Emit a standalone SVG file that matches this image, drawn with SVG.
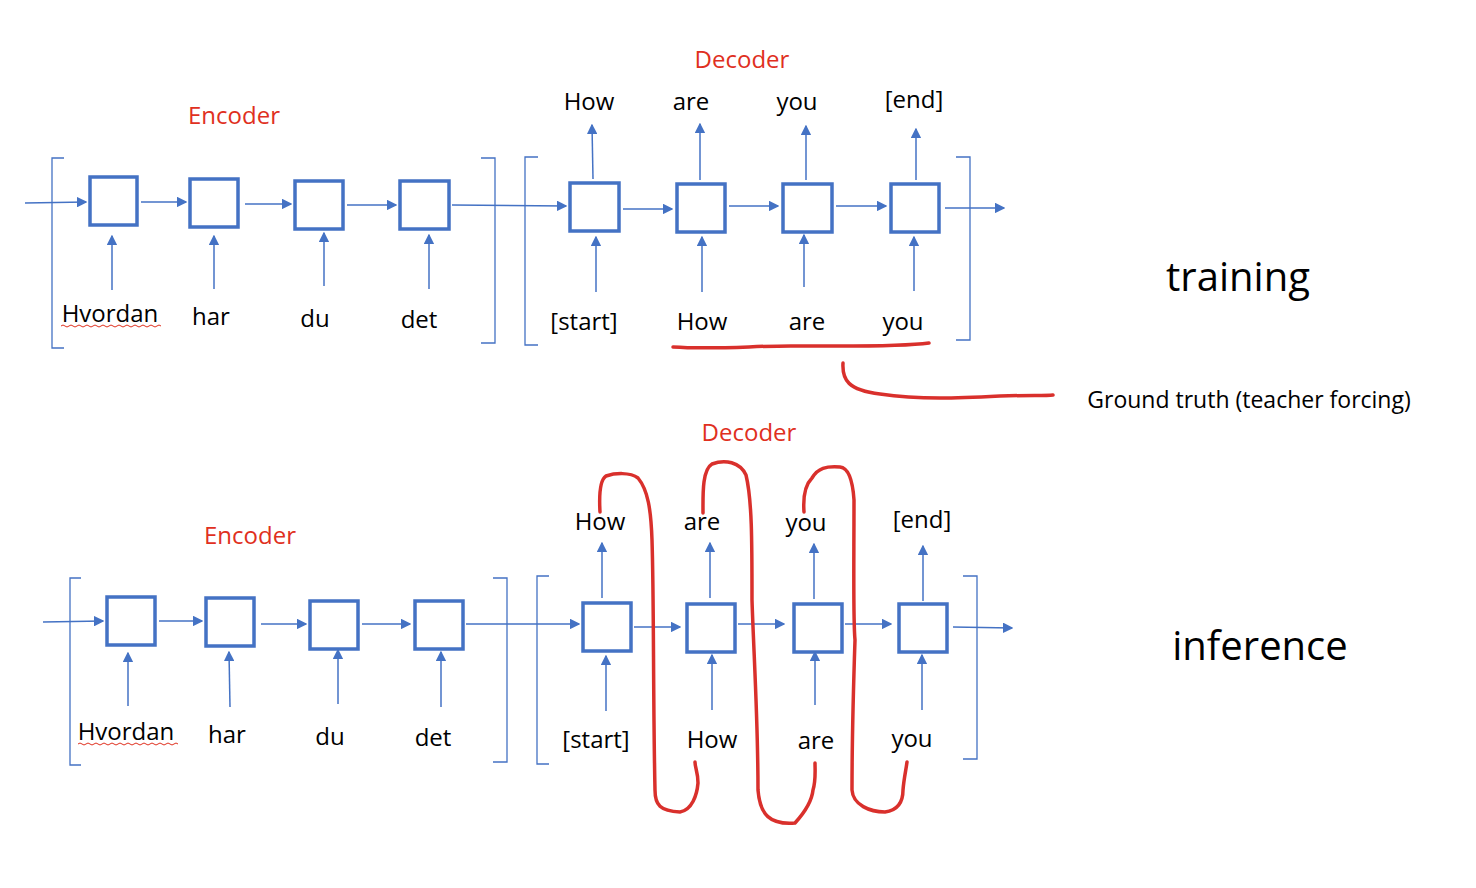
<svg xmlns="http://www.w3.org/2000/svg" width="1476" height="888" viewBox="0 0 1476 888">
<style>
.box{fill:#fff;stroke:#4472c4;stroke-width:3.5}
.ln{stroke:#4472c4;stroke-width:1.5;fill:none}
.br{stroke:#4472c4;stroke-width:1.3;fill:none}
.t{font-family:"Open Sans","Liberation Sans",sans-serif;font-size:24px;fill:#000;text-anchor:middle}
.r{font-family:"Open Sans","Liberation Sans",sans-serif;font-size:24px;fill:#e0301e;text-anchor:middle}
.big{font-family:"Open Sans","Liberation Sans",sans-serif;font-size:40px;fill:#000;text-anchor:middle}
.red{stroke:#d9302c;stroke-width:3.5;fill:none;stroke-linecap:round;stroke-linejoin:round}
.sq{stroke:#e0301e;stroke-width:1;fill:none}
</style>
<defs>
<marker id="a" markerWidth="10" markerHeight="10" refX="9" refY="5" orient="auto" markerUnits="userSpaceOnUse"><path d="M0,0 L10,5 L0,10 Z" fill="#4472c4" transform="scale(1.6) translate(-3.5,-1.9)"/></marker>
</defs>
<g id="connectors">
<!-- top encoder -->
<path class="ln" d="M25,203 L86,202" marker-end="url(#a)"/>
<path class="ln" d="M141,202 L186,202" marker-end="url(#a)"/>
<path class="ln" d="M245,204 L291,204" marker-end="url(#a)"/>
<path class="ln" d="M347,205 L396,205" marker-end="url(#a)"/>
<path class="ln" d="M452,205 L566,206" marker-end="url(#a)"/>
<path class="ln" d="M112,290 L112,236" marker-end="url(#a)"/>
<path class="ln" d="M214,289 L214,236" marker-end="url(#a)"/>
<path class="ln" d="M324,286 L324,233" marker-end="url(#a)"/>
<path class="ln" d="M429,289 L429,235" marker-end="url(#a)"/>
<!-- top decoder -->
<path class="ln" d="M623,209 L672,209" marker-end="url(#a)"/>
<path class="ln" d="M729,206 L778,206" marker-end="url(#a)"/>
<path class="ln" d="M836,206 L886,206" marker-end="url(#a)"/>
<path class="ln" d="M945,208 L1004,208" marker-end="url(#a)"/>
<path class="ln" d="M593,179 L592,125" marker-end="url(#a)"/>
<path class="ln" d="M700,180 L700,124" marker-end="url(#a)"/>
<path class="ln" d="M806,180 L806,126" marker-end="url(#a)"/>
<path class="ln" d="M916,180 L916,129" marker-end="url(#a)"/>
<path class="ln" d="M596,292 L596,237" marker-end="url(#a)"/>
<path class="ln" d="M702,292 L702,237" marker-end="url(#a)"/>
<path class="ln" d="M804,287 L804,235" marker-end="url(#a)"/>
<path class="ln" d="M914,291 L914,237" marker-end="url(#a)"/>
<!-- bottom encoder -->
<path class="ln" d="M43,622 L103,621" marker-end="url(#a)"/>
<path class="ln" d="M159,621 L202,621" marker-end="url(#a)"/>
<path class="ln" d="M261,624 L306,624" marker-end="url(#a)"/>
<path class="ln" d="M362,624 L410,624" marker-end="url(#a)"/>
<path class="ln" d="M466,624 L579,624" marker-end="url(#a)"/>
<path class="ln" d="M128,706 L128,653" marker-end="url(#a)"/>
<path class="ln" d="M230,707 L229,652" marker-end="url(#a)"/>
<path class="ln" d="M338,704 L338,650" marker-end="url(#a)"/>
<path class="ln" d="M441,707 L441,652" marker-end="url(#a)"/>
<!-- bottom decoder -->
<path class="ln" d="M634,627 L680,627" marker-end="url(#a)"/>
<path class="ln" d="M738,624 L784,624" marker-end="url(#a)"/>
<path class="ln" d="M845,624 L891,624" marker-end="url(#a)"/>
<path class="ln" d="M953,627 L1012,628" marker-end="url(#a)"/>
<path class="ln" d="M602,598 L602,543" marker-end="url(#a)"/>
<path class="ln" d="M710,598 L710,543" marker-end="url(#a)"/>
<path class="ln" d="M814,599 L814,544" marker-end="url(#a)"/>
<path class="ln" d="M923,601 L923,546" marker-end="url(#a)"/>
<path class="ln" d="M606,711 L606,656" marker-end="url(#a)"/>
<path class="ln" d="M712,710 L712,655" marker-end="url(#a)"/>
<path class="ln" d="M815,705 L815,652" marker-end="url(#a)"/>
<path class="ln" d="M922,710 L922,655" marker-end="url(#a)"/>
</g>
<g id="brackets">
<path class="br" d="M64,158 L52,158 L52,348 L64,348"/>
<path class="br" d="M481,158 L495,158 L495,343 L481,343"/>
<path class="br" d="M538,157 L525,157 L525,345 L538,345"/>
<path class="br" d="M956,157 L970,157 L970,340 L956,340"/>
<path class="br" d="M81,578 L70,578 L70,765 L81,765"/>
<path class="br" d="M493,578 L507,578 L507,762 L493,762"/>
<path class="br" d="M549,576 L537,576 L537,764 L549,764"/>
<path class="br" d="M963,576 L977,576 L977,759 L963,759"/>
</g>
<g id="enc-top">
<rect class="box" x="90" y="177" width="47" height="48"/>
<rect class="box" x="190" y="179" width="48" height="48"/>
<rect class="box" x="295" y="181" width="48" height="48"/>
<rect class="box" x="400" y="181" width="49" height="48"/>
</g>
<g id="dec-top">
<rect class="box" x="570" y="183" width="49" height="48"/>
<rect class="box" x="677" y="184" width="48" height="48"/>
<rect class="box" x="783" y="184" width="49" height="48"/>
<rect class="box" x="891" y="184" width="48" height="48"/>
</g>
<g id="enc-bot">
<rect class="box" x="107" y="597" width="48" height="48"/>
<rect class="box" x="206" y="598" width="48" height="48"/>
<rect class="box" x="310" y="601" width="48" height="48"/>
<rect class="box" x="415" y="601" width="48" height="48"/>
</g>
<g id="dec-bot">
<rect class="box" x="583" y="603" width="48" height="48"/>
<rect class="box" x="687" y="604" width="48" height="48"/>
<rect class="box" x="794" y="604" width="48" height="48"/>
<rect class="box" x="899" y="604" width="48" height="48"/>
</g>
<g id="labels">
<text class="r" x="234" y="124">Encoder</text>
<text class="r" x="742" y="68">Decoder</text>
<text class="t" x="110" y="322">Hvordan</text>
<text class="t" x="211" y="325">har</text>
<text class="t" x="315" y="327">du</text>
<text class="t" x="419" y="328">det</text>
<text class="t" x="589" y="110">How</text>
<text class="t" x="691" y="110">are</text>
<text class="t" x="797" y="110">you</text>
<text class="t" x="914" y="108">[end]</text>
<text class="t" x="584" y="330">[start]</text>
<text class="t" x="702" y="330">How</text>
<text class="t" x="807" y="330">are</text>
<text class="t" x="903" y="330">you</text>
<text class="big" x="1238" y="291">training</text>
<text class="t" x="1249" y="408" style="font-size:23px">Ground truth (teacher forcing)</text>
<text class="r" x="250" y="544">Encoder</text>
<text class="r" x="749" y="441">Decoder</text>
<text class="t" x="126" y="740">Hvordan</text>
<text class="t" x="227" y="743">har</text>
<text class="t" x="330" y="745">du</text>
<text class="t" x="433" y="746">det</text>
<text class="t" x="600" y="530">How</text>
<text class="t" x="702" y="530">are</text>
<text class="t" x="806" y="531">you</text>
<text class="t" x="922" y="528">[end]</text>
<text class="t" x="596" y="748">[start]</text>
<text class="t" x="712" y="748">How</text>
<text class="t" x="816" y="749">are</text>
<text class="t" x="912" y="747">you</text>
<text class="big" x="1260" y="660">inference</text>
</g>
<g id="annotations">
<path class="sq" d="M61,326 q2,-2 4,0 t4,0 t4,0 t4,0 t4,0 t4,0 t4,0 t4,0 t4,0 t4,0 t4,0 t4,0 t4,0 t4,0 t4,0 t4,0 t4,0 t4,0 t4,0 t4,0 t4,0 t4,0 t4,0 t4,0 t4,0"/>
<path class="sq" d="M78,744 q2,-2 4,0 t4,0 t4,0 t4,0 t4,0 t4,0 t4,0 t4,0 t4,0 t4,0 t4,0 t4,0 t4,0 t4,0 t4,0 t4,0 t4,0 t4,0 t4,0 t4,0 t4,0 t4,0 t4,0 t4,0 t4,0"/>
<path class="red" d="M673,347 C720,350 760,345 800,346 C850,346 900,347 929,343"/>
<path class="red" d="M843,363 C842,380 848,390 880,394 C920,400 960,398 1000,396 C1030,395 1045,396 1053,395"/>
<path class="red" d="M600,512 C599,495 600,480 606,476 C615,473 630,472 638,478 C648,490 651,510 652,540 C654,600 653,700 655,790 C655,805 660,811 680,812 C692,810 697,795 698,783 C698,772 695,768 695,762"/>
<path class="red" d="M703,513 C703,495 702,470 712,464 C725,459 740,462 746,475 C752,500 752,540 752,600 C754,660 758,720 758,790 C760,815 770,825 795,823 C805,812 812,800 813,790 C816,780 815,770 815,763"/>
<path class="red" d="M804,512 C803,498 805,485 812,478 C818,468 826,466 840,467 C850,468 853,485 854,500 C854,560 853,620 855,640 C853,700 852,760 852,790 C853,805 870,812 885,812 C900,810 903,800 903,790 C904,778 906,770 907,762"/>
</g>
</svg>
